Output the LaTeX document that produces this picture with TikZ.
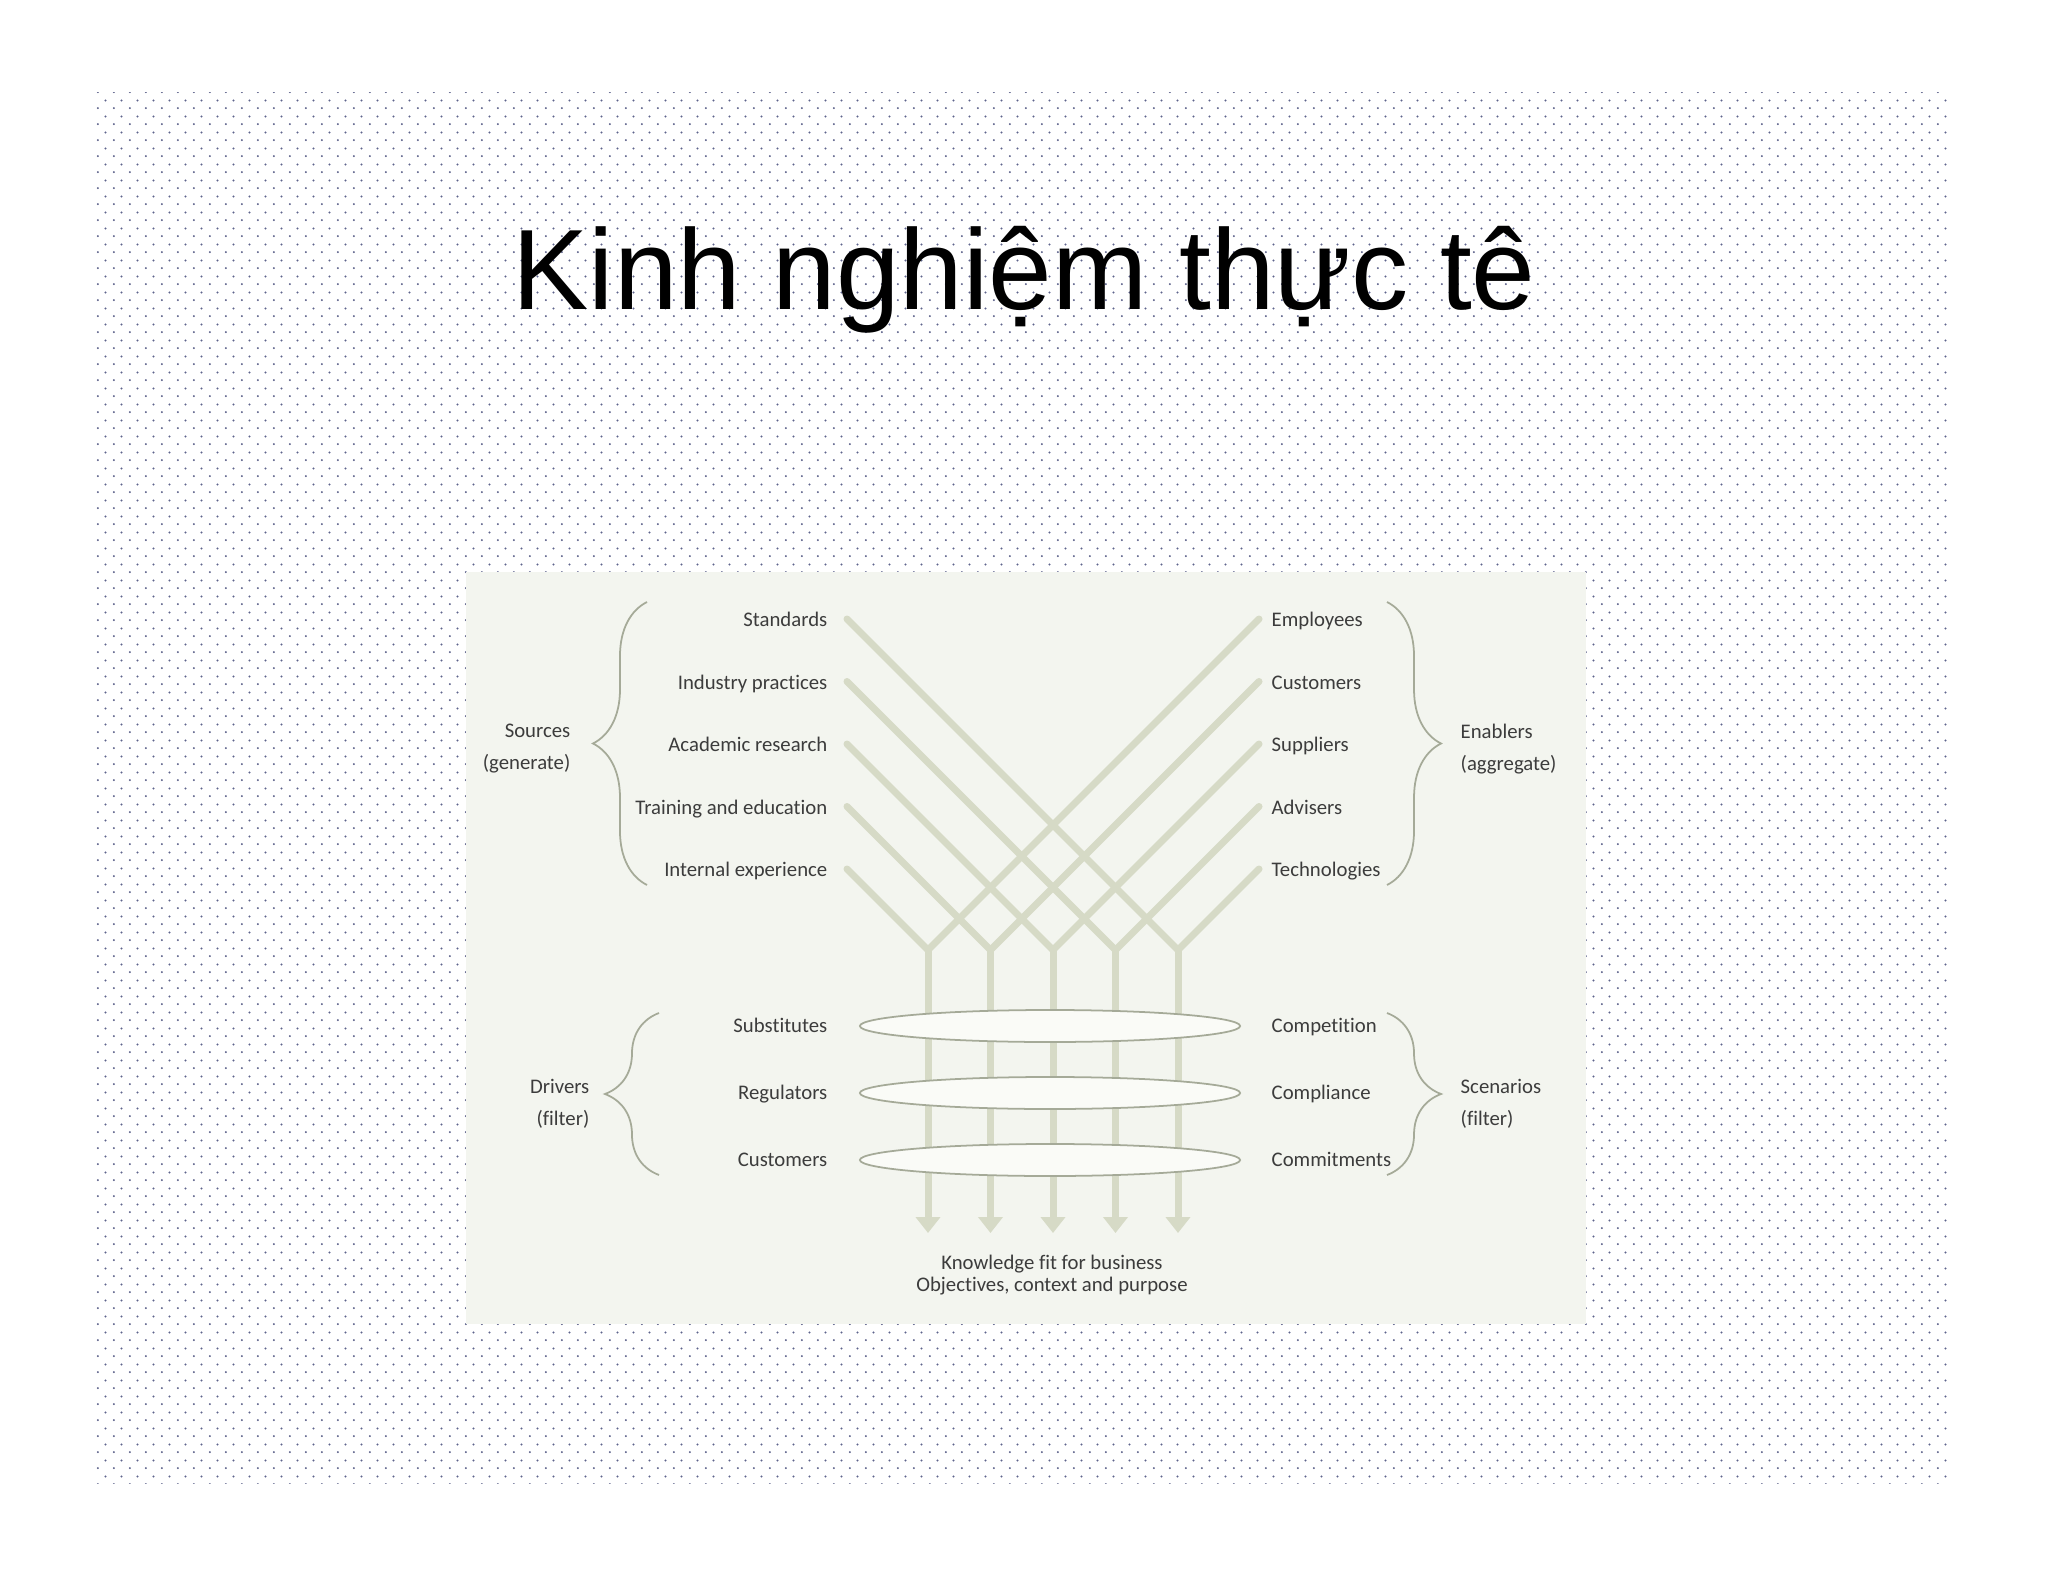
\documentclass[tikz,border=0pt]{standalone}
\usepackage{fontspec}
\setmainfont{Liberation Sans}
\newfontfamily\labelfont[Ligatures=NoCommon]{Carlito}
\usepackage{tikz}
\usetikzlibrary{shapes.geometric,arrows.meta,decorations.pathreplacing,patterns}

\definecolor{dotgrey}{RGB}{95,100,140}
\definecolor{panelbg}{RGB}{243,245,239}
\definecolor{sage}{RGB}{214,218,198}
\definecolor{rimgrey}{RGB}{165,170,152}
\definecolor{labelgrey}{RGB}{60,60,60}
\definecolor{lensfill}{RGB}{250,251,247}

\pgfdeclarepatternformonly{slidedots}{\pgfpointorigin}{\pgfqpoint{4.4586pt}{4.4586pt}}{\pgfqpoint{4.4586pt}{4.4586pt}}{%
  \pgfpathcircle{\pgfqpoint{1.1146pt}{1.1146pt}}{0.31pt}%
  \pgfpathcircle{\pgfqpoint{3.344pt}{3.344pt}}{0.31pt}%
  \pgfusepath{fill}}

\begin{document}
\begin{tikzpicture}
  [x=0.01cm,y=-0.01cm,every node/.style={font=\labelfont\fontsize{5.9}{9.1}\selectfont,text=labelgrey,inner sep=0pt},
   lbl/.style={text height=0.7em,text depth=0.25em},
   stream/.style={draw=sage,line width=0.07cm,line cap=round,line join=round},
   flow/.style={draw=sage,line width=0.07cm,-{Triangle[length=0.16cm,width=0.24cm]}},
   lens/.style={ellipse,draw=rimgrey,fill=lensfill,line width=0.5pt,minimum width=3.8cm,minimum height=0.32cm},
   curly/.style={draw=rimgrey,line width=0.5pt,decorate,decoration={brace,amplitude=5.4mm}}] % slide is measured in pixels, y runs downwards

  \useasboundingbox (0,0) rectangle (2048,1582);
  \fill[white] (0,0) rectangle (2048,1582);
  \fill[pattern=slidedots,pattern color=dotgrey] (93,93) rectangle (1950,1483); % dotted slide background
  \fill[panelbg] (466,572) rectangle (1586,1324);

  \node[font=\fontsize{32.5}{39}\selectfont,text=black,anchor=base] (title) at (1024,309) {Kinh nghiệm thực tê};

  % where the streams start, meet and end
  \coordinate (s1) at (847,619);
  \coordinate (s2) at (847,681.5);
  \coordinate (s3) at (847,744);
  \coordinate (s4) at (847,806.5);
  \coordinate (s5) at (847,869);
  \coordinate (e1) at (1259,619);
  \coordinate (e2) at (1259,681.5);
  \coordinate (e3) at (1259,744);
  \coordinate (e4) at (1259,806.5);
  \coordinate (e5) at (1259,869);
  \coordinate (j1) at (928,950);
  \coordinate (j2) at (990.5,950);
  \coordinate (j3) at (1053,950);
  \coordinate (j4) at (1115.5,950);
  \coordinate (j5) at (1178,950);
  \coordinate (t1) at (928,1233);
  \coordinate (t2) at (990.5,1233);
  \coordinate (t3) at (1053,1233);
  \coordinate (t4) at (1115.5,1233);
  \coordinate (t5) at (1178,1233);

  \draw[stream] (s1) -- (j5);
  \draw[stream] (s2) -- (j4);
  \draw[stream] (s3) -- (j3);
  \draw[stream] (s4) -- (j2);
  \draw[stream] (s5) -- (j1);
  \draw[stream] (e1) -- (j1);
  \draw[stream] (e2) -- (j2);
  \draw[stream] (e3) -- (j3);
  \draw[stream] (e4) -- (j4);
  \draw[stream] (e5) -- (j5);

  \draw[flow] (j1) -- (t1);
  \draw[flow] (j2) -- (t2);
  \draw[flow] (j3) -- (t3);
  \draw[flow] (j4) -- (t4);
  \draw[flow] (j5) -- (t5);

  \node[lens] (f1) at (1050,1026) {}; % the three filters sit on top of the streams
  \node[lens] (f2) at (1050,1093) {};
  \node[lens] (f3) at (1050,1160) {};

  \node[lbl,anchor=east] (src1) at (828,619) {Standards};
  \node[lbl,anchor=east] (src2) at (828,681.5) {Industry practices};
  \node[lbl,anchor=east] (src3) at (828,744) {Academic research};
  \node[lbl,anchor=east] (src4) at (828,806.5) {Training and education};
  \node[lbl,anchor=east] (src5) at (828,869) {Internal experience};

  \node[lbl,anchor=west] (enb1) at (1271,619) {Employees};
  \node[lbl,anchor=west] (enb2) at (1271,681.5) {Customers};
  \node[lbl,anchor=west] (enb3) at (1271,744) {Suppliers};
  \node[lbl,anchor=west] (enb4) at (1271,806.5) {Advisers};
  \node[lbl,anchor=west] (enb5) at (1271,869) {Technologies};

  \node[lbl,anchor=east] (drv1) at (828,1025) {Substitutes};
  \node[lbl,anchor=east] (drv2) at (828,1092) {Regulators};
  \node[lbl,anchor=east] (drv3) at (828,1159) {Customers};

  \node[lbl,anchor=west] (scn1) at (1271,1025) {Competition};
  \node[lbl,anchor=west] (scn2) at (1271,1092) {Compliance};
  \node[lbl,anchor=west] (scn3) at (1271,1159) {Commitments};

  \node[align=right,anchor=east] (sources) at (571,749) {Sources\\(generate)};
  \node[align=left,anchor=west] (enablers) at (1460,749) {Enablers\\(aggregate)};
  \node[align=right,anchor=east] (drivers) at (590,1104) {Drivers\\(filter)};
  \node[align=left,anchor=west] (scenarios) at (1460,1104) {Scenarios\\(filter)};

  \node[align=center,font=\labelfont\fontsize{5.9}{6.3}\selectfont] (outcome) at (1052,1275) {Knowledge fit for business\\Objectives, context and purpose};

  % braces round each group of labels
  \coordinate (b1) at (647,885);
  \coordinate (b2) at (647,602);
  \coordinate (b3) at (1387,602);
  \coordinate (b4) at (1387,885);
  \coordinate (b5) at (659,1175);
  \coordinate (b6) at (659,1013);
  \coordinate (b7) at (1387,1013);
  \coordinate (b8) at (1387,1175);
  \draw[curly] (b1) -- (b2);
  \draw[curly] (b3) -- (b4);
  \draw[curly] (b5) -- (b6);
  \draw[curly] (b7) -- (b8);

\end{tikzpicture}
\end{document}
